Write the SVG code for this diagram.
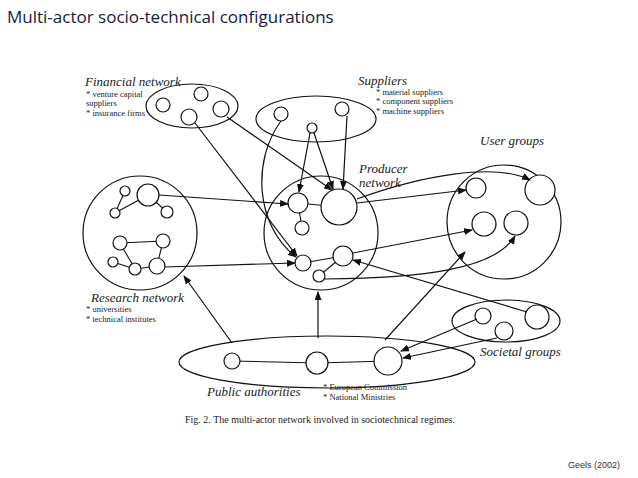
<svg xmlns="http://www.w3.org/2000/svg" width="638" height="478" viewBox="0 0 638 478">
<style>
.s{fill:none;stroke:#111;stroke-width:1.2}
.c{fill:#fff;stroke:#111;stroke-width:1.2}
.l{fill:none;stroke:#111;stroke-width:1.1}
.a{fill:none;stroke:#111;stroke-width:1.2;marker-end:url(#ah)}
.h{font-family:"Liberation Serif",serif;font-style:italic;font-size:13px;fill:#222}
.i{font-family:"Liberation Serif",serif;font-size:8.5px;fill:#222}
</style>
<defs><marker id="ah" markerWidth="9" markerHeight="7" refX="8" refY="3.5" orient="auto" markerUnits="userSpaceOnUse"><path d="M0,0L9,3.5L0,7z" fill="#111"/></marker></defs>
<rect width="638" height="478" fill="#fff"/>
<text x="7" y="23" font-family="Open Sans,Liberation Sans,sans-serif" font-size="17" fill="#1a1a40">Multi-actor socio-technical configurations</text>
<text x="568" y="468" font-family="Liberation Sans,sans-serif" font-size="9" fill="#333">Geels (2002)</text>
<g id="financial"><ellipse class="s" cx="192" cy="106" rx="46" ry="22"/><circle class="c" cx="163" cy="105" r="7"/><circle class="c" cx="201" cy="94" r="7"/><circle class="c" cx="189" cy="117" r="8"/><circle class="c" cx="221" cy="109" r="8"/>
<text class="h" x="85" y="86">Financial network</text><text class="i" x="86" y="97">* venture capital</text><text class="i" x="86" y="106">suppliers</text><text class="i" x="86" y="116">* insurance firms</text></g>
<g id="suppliers"><ellipse class="s" cx="316" cy="119" rx="60" ry="23"/><circle class="c" cx="281" cy="114" r="7"/><circle class="c" cx="312" cy="128" r="5"/><circle class="c" cx="342" cy="109" r="7"/>
<text class="h" x="358" y="85">Suppliers</text><text class="i" x="376" y="95">* material suppliers</text><text class="i" x="376" y="104">* component suppliers</text><text class="i" x="376" y="114">* machine suppliers</text></g>
<g id="producer"><circle class="s" cx="321" cy="233" r="57"/>
<line class="l" x1="298" y1="203" x2="339" y2="207"/><line class="l" x1="298" y1="203" x2="302" y2="228"/><line class="l" x1="303" y1="263" x2="343" y2="256"/><line class="l" x1="343" y1="256" x2="319" y2="276"/>
<circle class="c" cx="298" cy="203" r="10"/><circle class="c" cx="339" cy="207" r="18"/><circle class="c" cx="302" cy="228" r="7"/><circle class="c" cx="303" cy="263" r="8"/><circle class="c" cx="343" cy="256" r="10"/><circle class="c" cx="319" cy="276" r="6"/>
<text class="h" x="359" y="173">Producer</text><text class="h" x="359" y="187">network</text></g>
<g id="research"><circle class="s" cx="140" cy="233" r="57"/>
<line class="l" x1="125" y1="191" x2="115" y2="213"/><line class="l" x1="115" y1="213" x2="148" y2="195"/><line class="l" x1="148" y1="195" x2="167" y2="212"/><line class="l" x1="120" y1="243" x2="163" y2="241"/><line class="l" x1="120" y1="243" x2="135" y2="269"/><line class="l" x1="163" y1="241" x2="157" y2="266"/><line class="l" x1="135" y1="269" x2="157" y2="266"/><line class="l" x1="113" y1="262" x2="135" y2="269"/>
<circle class="c" cx="125" cy="191" r="5"/><circle class="c" cx="148" cy="195" r="11"/><circle class="c" cx="115" cy="213" r="5"/><circle class="c" cx="167" cy="212" r="6"/><circle class="c" cx="120" cy="243" r="7"/><circle class="c" cx="163" cy="241" r="7"/><circle class="c" cx="113" cy="262" r="5"/><circle class="c" cx="135" cy="269" r="6"/><circle class="c" cx="157" cy="266" r="8"/>
<text class="h" x="91" y="302">Research network</text><text class="i" x="86" y="312">* universities</text><text class="i" x="86" y="322">* technical institutes</text></g>
<g id="users"><circle class="s" cx="504" cy="222" r="57"/><circle class="c" cx="476" cy="188" r="10"/><circle class="c" cx="540" cy="190" r="15"/><circle class="c" cx="484" cy="224" r="12"/><circle class="c" cx="516" cy="223" r="12"/>
<text class="h" x="480" y="145">User groups</text></g>
<g id="societal"><ellipse class="s" cx="506" cy="321" rx="54" ry="21"/><circle class="c" cx="483" cy="316" r="8"/><circle class="c" cx="504" cy="331" r="9"/><circle class="c" cx="537" cy="317" r="12"/>
<text class="h" x="480" y="356">Societal groups</text></g>
<g id="public"><ellipse class="s" cx="327" cy="362" rx="148" ry="26"/>
<line class="l" x1="232" y1="361" x2="317" y2="363"/><line class="l" x1="317" y1="363" x2="388" y2="361"/>
<circle class="c" cx="232" cy="361" r="8"/><circle class="c" cx="317" cy="363" r="11"/><circle class="c" cx="388" cy="361" r="14"/>
<text class="h" x="207" y="396">Public authorities</text><text class="i" x="323" y="390">* European Commission</text><text class="i" x="323" y="400">* National Ministries</text></g>
<text x="320" y="423" text-anchor="middle" font-family="Liberation Serif,serif" font-size="10" fill="#222">Fig. 2. The multi-actor network involved in sociotechnical regimes.</text>
<g id="connectors">
<path class="a" d="M195,123L297,256"/>
<path class="a" d="M227,117L332,190"/>
<path class="a" d="M310,133L299,192"/>
<path class="a" d="M314,133L333,189"/>
<path class="a" d="M347,116L343,189"/>
<path class="a" d="M281,121C252,160 255,225 296,257"/>
<path class="a" d="M159,195L288,204"/>
<path class="a" d="M165,267L295,263"/>
<path class="a" d="M357,203L466,190"/>
<path class="a" d="M357,199C420,176 495,162 530,180"/>
<path class="a" d="M353,253L472,230"/>
<path class="a" d="M325,279C420,278 495,270 515,236"/>
<path class="a" d="M527,312L353,260"/>
<path class="a" d="M385,340L465,252"/>
<path class="a" d="M232,343L184,276"/>
<path class="a" d="M318,338L318,292"/>
<path class="a" d="M477,319L401,351"/>
<path class="a" d="M497,338L403,358"/>
</g>
</svg>
